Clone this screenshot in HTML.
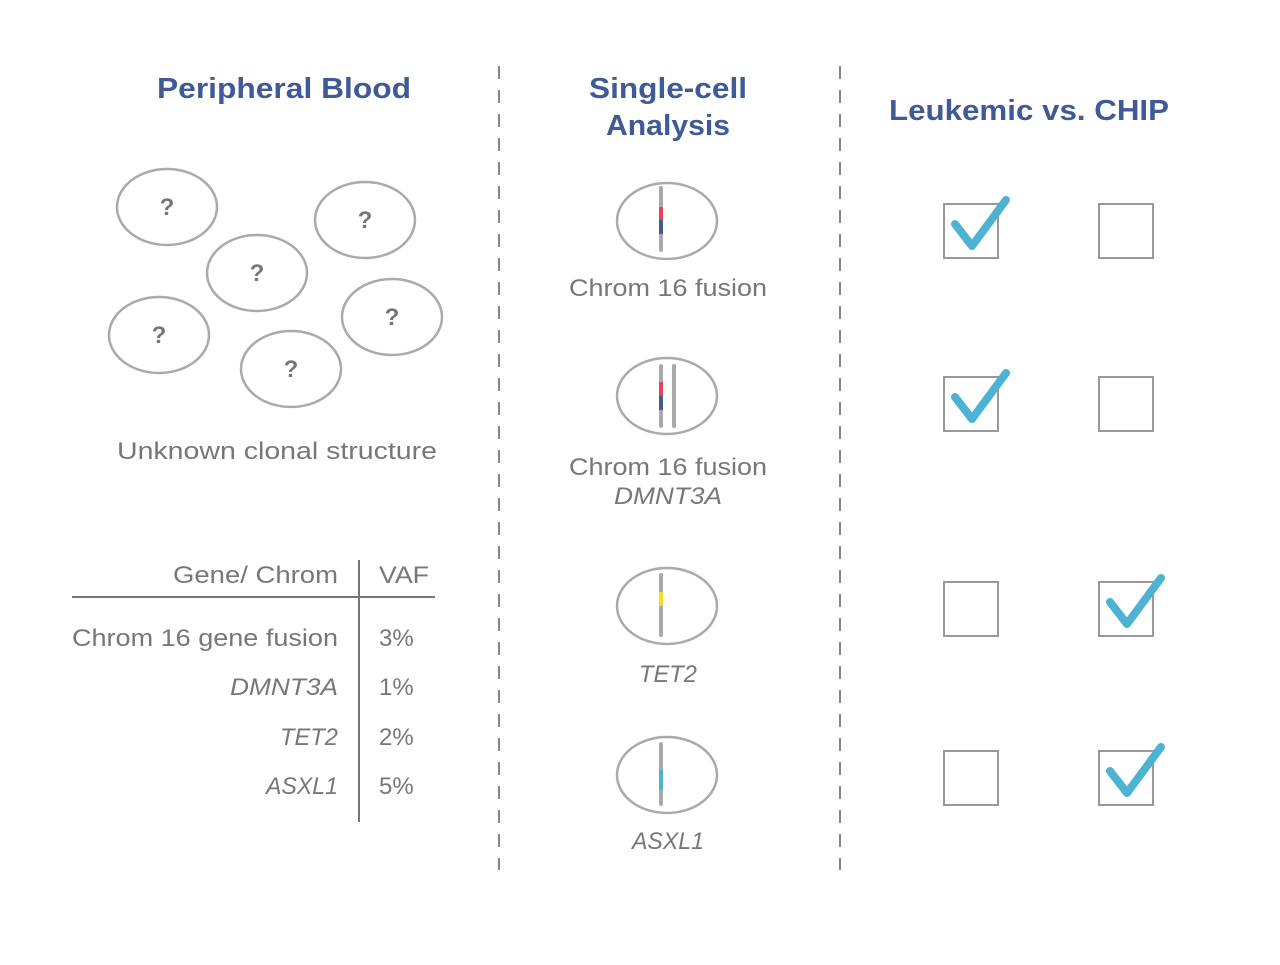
<!DOCTYPE html><html><head><style>body{margin:0;background:#fff}svg{display:block}</style></head><body>
<svg width="1280" height="965" xmlns="http://www.w3.org/2000/svg" font-family="Liberation Sans, sans-serif">
<g fill="#3f5a96" font-weight="bold" font-size="29" text-anchor="middle" lengthAdjust="spacingAndGlyphs">
<text x="284" y="98" textLength="254" lengthAdjust="spacingAndGlyphs">Peripheral Blood</text>
<text x="668" y="98" textLength="158" lengthAdjust="spacingAndGlyphs">Single-cell</text><text x="668" y="135" textLength="124" lengthAdjust="spacingAndGlyphs">Analysis</text>
<text x="1029" y="120" textLength="280" lengthAdjust="spacingAndGlyphs">Leukemic vs. CHIP</text></g>
<g stroke="#888" stroke-width="2" stroke-dasharray="13 11"><line x1="499" y1="66" x2="499" y2="870"/><line x1="840" y1="66" x2="840" y2="870"/></g>
<g fill="none" stroke="#aaa" stroke-width="2.5">
<ellipse cx="167" cy="207" rx="50" ry="38"/><ellipse cx="365" cy="220" rx="50" ry="38"/><ellipse cx="257" cy="273" rx="50" ry="38"/><ellipse cx="392" cy="317" rx="50" ry="38"/><ellipse cx="159" cy="335" rx="50" ry="38"/><ellipse cx="291" cy="369" rx="50" ry="38"/>
<ellipse cx="667" cy="221" rx="50" ry="38"/><ellipse cx="667" cy="396" rx="50" ry="38"/><ellipse cx="667" cy="606" rx="50" ry="38"/><ellipse cx="667" cy="775" rx="50" ry="38"/></g>
<g fill="#777" font-weight="bold" font-size="24" text-anchor="middle">
<text x="167" y="215">?</text><text x="365" y="228">?</text><text x="257" y="281">?</text><text x="392" y="325">?</text><text x="159" y="343">?</text><text x="291" y="377">?</text></g>
<g stroke="#aaa" stroke-width="4" stroke-linecap="round">
<line x1="661" y1="188" x2="661" y2="250"/><line x1="661" y1="366" x2="661" y2="426"/><line x1="674" y1="366" x2="674" y2="426"/><line x1="661" y1="575" x2="661" y2="635"/><line x1="661" y1="744" x2="661" y2="804"/></g>
<g stroke-width="4"><line x1="661" y1="207" x2="661" y2="220" stroke="#e8435a"/><line x1="661" y1="220" x2="661" y2="234" stroke="#3f5a96"/>
<line x1="661" y1="382" x2="661" y2="396" stroke="#e8435a"/><line x1="661" y1="396" x2="661" y2="410" stroke="#3f5a96"/>
<line x1="661" y1="592" x2="661" y2="606" stroke="#f0e020"/><line x1="661" y1="770" x2="661" y2="790" stroke="#4eb3d3"/></g>
<g fill="#777" font-size="24" text-anchor="middle">
<text x="668" y="296" textLength="198" lengthAdjust="spacingAndGlyphs">Chrom 16 fusion</text><text x="668" y="475" textLength="198" lengthAdjust="spacingAndGlyphs">Chrom 16 fusion</text><text x="668" y="504" font-style="italic" textLength="108" lengthAdjust="spacingAndGlyphs">DMNT3A</text>
<text x="668" y="682" font-style="italic" textLength="58" lengthAdjust="spacingAndGlyphs">TET2</text><text x="668" y="849" font-style="italic" textLength="72" lengthAdjust="spacingAndGlyphs">ASXL1</text>
<text x="277" y="459" textLength="320" lengthAdjust="spacingAndGlyphs">Unknown clonal structure</text></g>
<g stroke="#777" stroke-width="2"><line x1="72" y1="597" x2="435" y2="597"/><line x1="359" y1="560" x2="359" y2="822"/></g>
<g fill="#777" font-size="24" text-anchor="end">
<text x="338" y="583" textLength="165" lengthAdjust="spacingAndGlyphs">Gene/ Chrom</text><text x="338" y="646" textLength="266" lengthAdjust="spacingAndGlyphs">Chrom 16 gene fusion</text>
<text x="338" y="695" font-style="italic" textLength="108" lengthAdjust="spacingAndGlyphs">DMNT3A</text><text x="338" y="745" font-style="italic" textLength="58" lengthAdjust="spacingAndGlyphs">TET2</text><text x="338" y="794" font-style="italic" textLength="72" lengthAdjust="spacingAndGlyphs">ASXL1</text></g>
<g fill="#777" font-size="24"><text x="379" y="583" textLength="50" lengthAdjust="spacingAndGlyphs">VAF</text><text x="379" y="646">3%</text><text x="379" y="695">1%</text><text x="379" y="745">2%</text><text x="379" y="794">5%</text></g>
<g fill="none" stroke="#999" stroke-width="2">
<rect x="944" y="204" width="54" height="54"/><rect x="1099" y="204" width="54" height="54"/>
<rect x="944" y="377" width="54" height="54"/><rect x="1099" y="377" width="54" height="54"/>
<rect x="944" y="582" width="54" height="54"/><rect x="1099" y="582" width="54" height="54"/>
<rect x="944" y="751" width="54" height="54"/><rect x="1099" y="751" width="54" height="54"/></g>
<g fill="none" stroke="#4eb3d3" stroke-width="8" stroke-linecap="round" stroke-linejoin="round">
<path d="M955 224 L972 246 L1006 200"/><path d="M955 397 L972 419 L1006 373"/>
<path d="M1110 602 L1127 624 L1161 578"/><path d="M1110 771 L1127 793 L1161 747"/></g>
</svg></body></html>
